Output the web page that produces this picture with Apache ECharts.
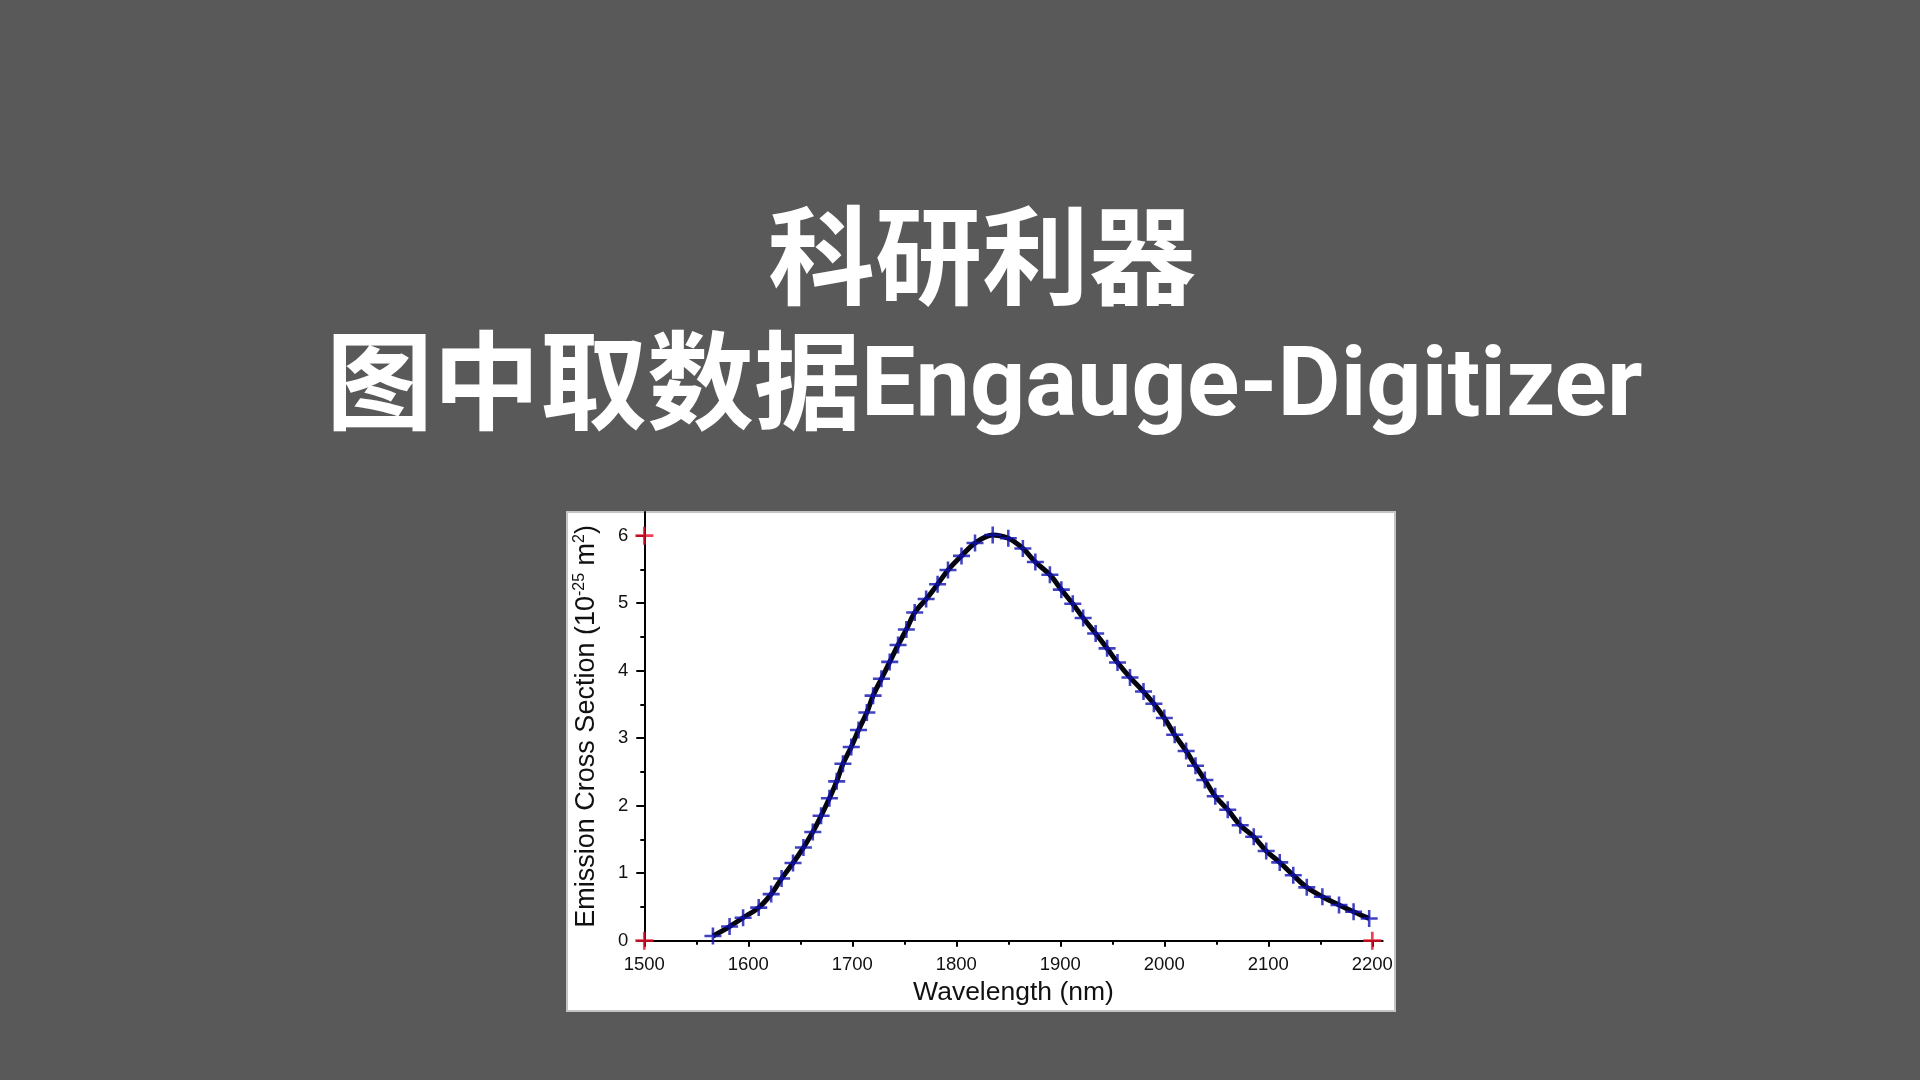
<!DOCTYPE html>
<html>
<head>
<meta charset="utf-8">
<script src="https://cdn.jsdelivr.net/npm/echarts@6/dist/echarts.min.js"></script>
<style>
html,body{margin:0;padding:0;background:#595959;}
#chart{width:1920px;height:1080px;}
</style>
</head>
<body>
<div id="chart"></div>
<script>
// ---- data ----
const titleLine1 = '科研利器';
const titleLine2Cjk = '图中取数据';
const titleLine2Latin = 'Engauge-Digitizer';
const xAxisName = 'Wavelength (nm)';
const xTickLabels = [1500, 1600, 1700, 1800, 1900, 2000, 2100, 2200];
const xMinorTicks = [1550, 1650, 1750, 1850, 1950, 2050, 2150];
const yTickLabels = [0, 1, 2, 3, 4, 5, 6];
const yMinorTicks = [0.5, 1.5, 2.5, 3.5, 4.5, 5.5];
const wavelength = [1566, 1582, 1595, 1610, 1622, 1632, 1643, 1653, 1662, 1670,
  1678, 1685, 1691, 1699, 1706, 1714, 1720, 1728, 1736, 1744,
  1752, 1760, 1771, 1782, 1792, 1805, 1818, 1835, 1850, 1864,
  1876, 1890, 1901, 1912, 1922, 1934, 1945, 1955, 1967, 1980,
  1990, 2000, 2010, 2021, 2030, 2039, 2049, 2061, 2073, 2086,
  2098, 2111, 2124, 2137, 2152, 2168, 2182, 2197];
const crossSection = [0.07, 0.21, 0.34, 0.49, 0.69, 0.92, 1.15, 1.38, 1.61, 1.85,
  2.11, 2.36, 2.62, 2.87, 3.12, 3.38, 3.63, 3.88, 4.13, 4.38,
  4.61, 4.86, 5.06, 5.28, 5.49, 5.70, 5.89, 6.01, 5.96, 5.81,
  5.61, 5.42, 5.20, 4.99, 4.78, 4.55, 4.33, 4.12, 3.90, 3.69,
  3.51, 3.30, 3.05, 2.81, 2.59, 2.38, 2.14, 1.94, 1.71, 1.54,
  1.33, 1.16, 0.97, 0.79, 0.65, 0.53, 0.43, 0.33];
const calibX = [1500, 1500, 2200];
const calibY = [6, 0, 0];

const curve = wavelength.map((w, i) => [w, crossSection[i]]);
const calib = calibX.map((x, i) => [x, calibY[i]]);

const plusPath = 'path://M0,6.8 H6.8 V0 H9.2 V6.8 H16 V9.2 H9.2 V16 H6.8 V9.2 H0 Z';
const axisFont = '"Liberation Sans", Arial, sans-serif';
const cjkFont = '"Noto Sans CJK SC", sans-serif';
const plainNum = v => String(v);

const chart = echarts.init(document.getElementById('chart'));
chart.setOption({
  backgroundColor: '#595959',
  animation: false,
  graphic: [
    { type: 'rect', z: -10, silent: true,
      shape: { x: 567, y: 512, width: 828, height: 499 },
      style: { fill: '#ffffff', stroke: '#c4c4c4', lineWidth: 2 } },
    { type: 'text', x: 982, y: 255, silent: true,
      style: { text: titleLine1, fill: '#ffffff', fontSize: 107, fontWeight: 'bold',
        fontFamily: cjkFont, align: 'center', verticalAlign: 'middle' } },
    { type: 'text', x: 861, y: 380, silent: true,
      style: { text: titleLine2Cjk, fill: '#ffffff', fontSize: 107, fontWeight: 'bold',
        fontFamily: cjkFont, align: 'right', verticalAlign: 'middle' } },
    { type: 'text', x: 861, y: 391, silent: true,
      style: { text: titleLine2Latin, fill: '#ffffff', fontSize: 97, fontWeight: 'bold',
        fontFamily: 'Roboto, sans-serif', align: 'left', verticalAlign: 'middle' } }
  ],
  grid: { left: 644.3, top: 512, right: 537.3, bottom: 139.3, containLabel: false },
  xAxis: [
    { type: 'value', min: 1500, max: 2210, interval: 100,
      name: xAxisName, nameLocation: 'middle', nameGap: 38,
      nameTextStyle: { fontFamily: axisFont, fontSize: 26.5, color: '#111' },
      axisLine: { show: true, lineStyle: { color: '#000', width: 2 } },
      axisTick: { show: true, inside: false, length: 6, customValues: xTickLabels, lineStyle: { color: '#000', width: 2 } },
      axisLabel: { show: true, margin: 15, customValues: xTickLabels, formatter: plainNum, fontFamily: axisFont, fontSize: 18.5, color: '#111' },
      splitLine: { show: false } },
    { type: 'value', min: 1500, max: 2210, interval: 100, position: 'bottom',
      axisLine: { show: false },
      axisTick: { show: true, length: 4, customValues: xMinorTicks, lineStyle: { color: '#000', width: 2 } },
      axisLabel: { show: false },
      splitLine: { show: false } }
  ],
  yAxis: [
    { type: 'value', min: 0, max: 6.35, interval: 1,
      name: '{a|Emission Cross Section (10}{s|-25}{a| m}{s|2}{a|)}',
      nameLocation: 'middle', nameRotate: 90, nameGap: 42,
      nameTextStyle: { fontFamily: axisFont, fontSize: 27, color: '#111',
        rich: {
          a: { fontFamily: axisFont, fontSize: 27, color: '#111', lineHeight: 31 },
          s: { fontFamily: axisFont, fontSize: 16, color: '#111', lineHeight: 16, verticalAlign: 'top' }
        } },
      axisLine: { show: true, lineStyle: { color: '#000', width: 2 } },
      axisTick: { show: true, inside: false, length: 8, customValues: yTickLabels, lineStyle: { color: '#000', width: 2 } },
      axisLabel: { show: true, margin: 16, customValues: yTickLabels, formatter: plainNum, fontFamily: axisFont, fontSize: 18.5, color: '#111' },
      splitLine: { show: false } },
    { type: 'value', min: 0, max: 6.35, interval: 1, position: 'left',
      axisLine: { show: false },
      axisTick: { show: true, length: 4, customValues: yMinorTicks, lineStyle: { color: '#000', width: 2 } },
      axisLabel: { show: false },
      splitLine: { show: false } }
  ],
  series: [
    { type: 'line', data: curve, xAxisIndex: 0, yAxisIndex: 0, smooth: 0.35,
      symbol: 'none', z: 2, clip: false,
      lineStyle: { color: '#05050f', width: 5 } },
    { type: 'scatter', data: curve, xAxisIndex: 0, yAxisIndex: 0, symbol: plusPath,
      symbolSize: 17, z: 3, clip: false,
      itemStyle: { color: '#1212b4' } },
    { type: 'scatter', data: calib, xAxisIndex: 0, yAxisIndex: 0, symbol: plusPath,
      symbolSize: 18, z: 4, clip: false,
      itemStyle: { color: '#e8102a' } }
  ]
});
</script>
</body>
</html>
